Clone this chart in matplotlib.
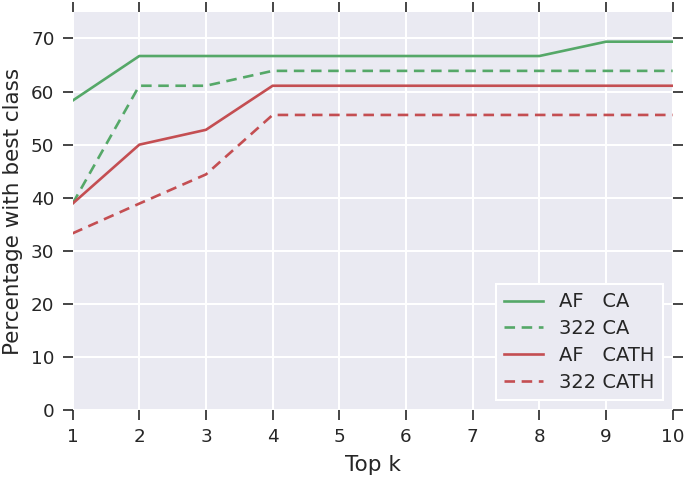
import numpy as np
import matplotlib
matplotlib.use("Agg")
import matplotlib.pyplot as plt

k = [1, 2, 3, 4, 5, 6, 7, 8, 9, 10]
af_ca = [58.3, 66.7, 66.7, 66.7, 66.7, 66.7, 66.7, 66.7, 69.4, 69.4]
s322_ca = [38.9, 61.1, 61.1, 63.9, 63.9, 63.9, 63.9, 63.9, 63.9, 63.9]
af_cath = [38.9, 50.0, 52.8, 61.1, 61.1, 61.1, 61.1, 61.1, 61.1, 61.1]
s322_cath = [33.3, 38.9, 44.4, 55.6, 55.6, 55.6, 55.6, 55.6, 55.6, 55.6]

green = "#55A868"
red = "#C44E52"
dash = (0, (4, 2.5))

plt.rcParams['font.family'] = ['DejaVu Sans']
fig = plt.figure(figsize=(6.85, 4.78), dpi=100)
ax = fig.add_axes([0.106, 0.142, 0.876, 0.833])
ax.set_facecolor("#EAEAF2")
for s in ax.spines.values():
    s.set_visible(False)
ax.grid(True, color="white", linewidth=1.5)
ax.set_axisbelow(True)

ax.plot(k, af_ca, color=green, lw=1.9, label="AF   CA")
ax.plot(k, s322_ca, color=green, lw=1.9, ls=dash, label="322 CA")
ax.plot(k, af_cath, color=red, lw=1.9, label="AF   CATH")
ax.plot(k, s322_cath, color=red, lw=1.9, ls=dash, label="322 CATH")

ax.set_xlim(1, 10)
ax.set_ylim(0, 75)
ax.set_xticks(k)
ax.set_yticks(np.arange(0, 71, 10))
ax.tick_params(direction="out", length=7, width=1.2, color="#262626",
               labelcolor="#262626", labelsize=13.2, top=True, right=True, pad=6)
ax.set_xlabel("Top k", fontsize=15.5, color="#262626", labelpad=6)
ax.set_ylabel("Percentage with best class", fontsize=15.5, color="#262626", labelpad=6)

leg = ax.legend(loc="lower right", fontsize=14, frameon=True,
                facecolor="#EAEAF2", edgecolor="white", framealpha=1,
                fancybox=False, borderaxespad=0.5, handlelength=2.0,
                labelspacing=0.4, borderpad=0.45)
leg.get_frame().set_linewidth(1.5)
for t in leg.get_texts():
    t.set_color("#262626")

fig.savefig("out.png", dpi=100)
